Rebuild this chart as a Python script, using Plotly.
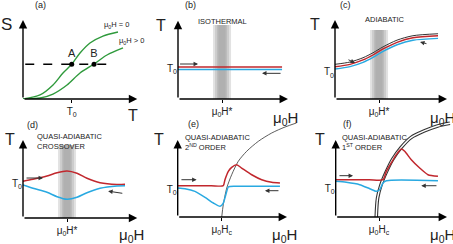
import plotly.graph_objects as go

W, H = 453, 244
SX, SY = 11.2, 7.9          # pixels per data unit (layout only)
FONT = "Liberation Sans, Arial, sans-serif"

RED = "#c1272d"
BLUE = "#29a9e1"
GREEN = "#2f9a3c"
INK = "#222222"

# ---------------- data ----------------
# (a) entropy S(T) at mu0H = 0 and mu0H > 0
a_T_h0 = [0, 1.52, 2.68, 3.57, 4.35, 5.09, 5.98, 7.14, 8.48]
a_S_h0 = [0, 0.51, 1.77, 3.29, 4.39, 5.82, 7.09, 7.97, 8.48]
a_T_h1 = [0, 1.52, 2.68, 3.93, 5.09, 6.34, 7.50, 8.93]
a_S_h1 = [0, 0.13, 0.63, 1.77, 3.29, 4.43, 5.57, 6.46]
a_S_iso = [4.4, 4.4]
a_T_iso = [0.2, 8.21]
a_pts_T = [4.35, 6.34]
a_pts_S = [4.4, 4.4]
a_pts_lbl = ["A", "B"]
a_T0 = 4.35

# (b) isothermal
b_H = [0, 9.29]
b_red = [4.05, 4.05]
b_blue = [3.73, 3.73]

# (c) adiabatic
c_H = [0, 1.34, 2.5, 3.39, 4.29, 5.54, 6.96, 9.2]
c_black = [4.39, 4.68, 5.22, 5.85, 6.60, 7.45, 8.01, 8.26]
c_red = [4.09, 4.39, 4.94, 5.57, 6.33, 7.18, 7.76, 8.01]
c_blue = [3.80, 4.10, 4.64, 5.27, 6.03, 6.87, 7.44, 7.68]

# (d) quasi-adiabatic crossover
d_H = [0, 0.89, 2.14, 3.04, 3.93, 4.82, 5.71, 6.88, 8.39, 9.11]
d_red = [4.65, 4.90, 5.32, 5.73, 5.95, 5.66, 5.03, 4.47, 4.25, 4.27]
d_blue = [4.18, 3.76, 3.25, 2.70, 2.37, 2.62, 3.20, 3.76, 4.05, 4.08]

# (e) quasi-adiabatic 2nd order
e_red_H = [0, 3.0, 4.07, 4.22, 4.52, 4.82, 5.27, 5.71, 6.61, 7.5, 8.39, 9.13]
e_red = [3.96, 3.96, 3.96, 4.72, 5.78, 6.29, 6.62, 6.20, 5.35, 4.72, 4.39, 4.30]
e_blue_H = [0, 0.65, 1.54, 2.44, 3.18, 3.78, 4.07, 4.38, 4.52, 5.12, 9.13]
e_blue = [3.67, 3.58, 3.25, 2.49, 1.77, 1.35, 1.77, 3.25, 3.80, 3.89, 3.89]
e_crit_H = [3.93, 4.07, 4.38, 4.82, 5.41, 6.16, 7.20, 8.39, 9.58, 10.6]
e_crit = [0, 1.56, 3.67, 5.35, 7.05, 8.32, 9.58, 10.63, 11.39, 11.9]

# (f) quasi-adiabatic 1st order
f_red_H = [0, 3.0, 4.22, 4.52, 4.96, 5.41, 5.86, 6.16, 6.75, 7.5, 8.24, 9.13]
f_red = [4.72, 4.72, 4.72, 5.78, 6.84, 7.89, 8.61, 8.32, 7.25, 6.20, 5.35, 5.15]
f_blue_H = [0, 0.95, 2.14, 3.04, 3.63, 3.93, 4.22, 4.52, 9.13]
f_blue = [4.52, 4.39, 4.09, 3.58, 3.25, 3.46, 4.30, 4.59, 4.59]
f_crit_H = [3.62, 3.74, 4.04, 4.49, 5.08, 5.83, 6.72, 7.91, 9.10, 10.2]
f_crit = [0, 2.41, 4.05, 5.62, 7.30, 8.78, 10.05, 10.89, 11.52, 11.86]

# tick positions / labels
x_tick = {1: (a_T0, "T<sub>0</sub>"), 2: (3.93, "μ<sub>0</sub>H*"), 3: (3.93, "μ<sub>0</sub>H*"),
          4: (3.93, "μ<sub>0</sub>H*"), 5: (3.93, "μ<sub>0</sub>H<sub>c</sub>"), 6: (3.87, "μ<sub>0</sub>H<sub>c</sub>")}
y_tick = {2: 3.92, 3: 3.42, 4: 4.39, 5: 3.54, 6: 3.63}
band_center = 3.93
band_top = {2: 9.37, 3: 8.73, 4: 9.24}

# ---------------- layout geometry (pixels) ----------------
panels = {
    1: dict(ox=23, oy=99, right=145, top=14, xtip=10.2, ytip=10.0),
    2: dict(ox=178, oy=99, right=300, top=14, xtip=9.82, ytip=9.9),
    3: dict(ox=335, oy=99, right=453, top=14, xtip=10.0, ytip=10.0),
    4: dict(ox=23, oy=218, right=145, top=118, xtip=10.2, ytip=9.87),
    5: dict(ox=177.7, oy=217, right=300, top=118, xtip=9.76, ytip=9.75),
    6: dict(ox=335.7, oy=217, right=453, top=118, xtip=9.94, ytip=9.75),
}

fig = go.Figure()


def xa(i):
    return "x" if i == 1 else f"x{i}"


def ya(i):
    return "y" if i == 1 else f"y{i}"


for i, p in panels.items():
    xd = [p["ox"] / W, p["right"] / W]
    yd = [1 - p["oy"] / H, 1 - p["top"] / H]
    xr = [0, (p["right"] - p["ox"]) / SX]
    yr = [0, (p["oy"] - p["top"]) / SY]
    tv, tt = x_tick[i]
    xkey = "xaxis" if i == 1 else f"xaxis{i}"
    ykey = "yaxis" if i == 1 else f"yaxis{i}"
    fig.update_layout({
        xkey: dict(domain=xd, range=xr, anchor=ya(i), showgrid=False, zeroline=False,
                   showline=False, tickmode="array", tickvals=[tv], ticktext=[tt],
                   ticks="outside", ticklen=3, tickwidth=1, tickcolor="black", color=INK,
                   tickfont=dict(size=10, color=INK, family=FONT), fixedrange=True),
        ykey: dict(domain=yd, range=yr, anchor=xa(i), showgrid=False, zeroline=False,
                   showline=False, tickmode="array", color=INK,
                   tickvals=[y_tick[i]] if i in y_tick else [],
                   ticktext=["T<sub>0</sub>"] if i in y_tick else [],
                   ticks="", tickfont=dict(size=10, color=INK, family=FONT), fixedrange=True),
    })


def line(i, x, y, color, width, dash=None, shape="spline", smoothing=0.8):
    fig.add_trace(go.Scatter(x=x, y=y, mode="lines", xaxis=xa(i), yaxis=ya(i),
                             line=dict(color=color, width=width, dash=dash, shape=shape,
                                       smoothing=smoothing),
                             hoverinfo="skip", showlegend=False))


# gray bands (soft edges)
for i, top in band_top.items():
    for wpx in (18, 14, 10, 7):
        hw = wpx / SX / 2
        fig.add_shape(type="rect", xref=xa(i), yref=ya(i), x0=band_center - hw, x1=band_center + hw,
                      y0=0, y1=top, fillcolor="#8a8a8a", opacity=0.25, line_width=0, layer="below")

# (a)
line(1, a_T_iso, a_S_iso, "black", 1.4, dash="dash", shape="linear")
line(1, a_T_h0, a_S_h0, GREEN, 1.4)
line(1, a_T_h1, a_S_h1, GREEN, 1.4)
fig.add_trace(go.Scatter(x=a_pts_T, y=a_pts_S, mode="markers+text", text=a_pts_lbl,
                         textposition="top center", textfont=dict(size=11, color=INK, family=FONT),
                         marker=dict(color="black", size=5), xaxis="x", yaxis="y",
                         hoverinfo="skip", showlegend=False, cliponaxis=False))
# (b)
line(2, b_H, b_red, RED, 1.5, shape="linear")
line(2, b_H, b_blue, BLUE, 1.5, shape="linear")
# (c)
line(3, c_H, c_black, "#333333", 1.0)
line(3, c_H, c_red, RED, 1.4)
line(3, c_H, c_blue, BLUE, 1.4)
# (d)
line(4, d_H, d_red, RED, 1.5)
line(4, d_H, d_blue, BLUE, 1.5)
# (e)
line(5, e_crit_H, e_crit, "#333333", 0.8)
line(5, e_red_H, e_red, RED, 1.5, smoothing=0.6)
line(5, e_blue_H, e_blue, BLUE, 1.5, smoothing=0.6)
# (f) double line = dark wide line with white core
line(6, f_crit_H, f_crit, "#333333", 3.6)
line(6, f_crit_H, f_crit, "white", 1.4)
line(6, f_red_H, f_red, RED, 1.5, smoothing=0.6)
line(6, f_blue_H, f_blue, BLUE, 1.5, smoothing=0.6)

ann = []
# axis arrows
for i, p in panels.items():
    for (hx, hy) in ((p["xtip"], 0), (0, p["ytip"])):
        ann.append(dict(x=hx, y=hy, ax=0, ay=0, xref=xa(i), yref=ya(i), axref=xa(i), ayref=ya(i),
                        text="", showarrow=True, arrowhead=2, arrowsize=1.2, arrowwidth=1.4,
                        arrowcolor="black", standoff=0, startstandoff=0))

# sweep direction arrows (tail -> head) in data units
sweeps = [
    (2, (0.05, 4.43), (1.79, 4.43)), (2, (9.29, 3.25), (7.5, 3.25)),
    (3, (1.07, 5.06), (1.79, 4.56)), (3, (8.3, 6.96), (7.59, 7.22)),
    (4, (0.18, 5.06), (1.79, 5.06)), (4, (9.0, 3.1), (7.6, 3.4)),
    (5, (0.2, 4.72), (1.69, 4.72)), (5, (9.13, 3.33), (7.79, 3.33)),
    (6, (0.2, 5.23), (1.55, 5.23)), (6, (9.13, 3.96), (7.64, 3.96)),
]
for i, t, h in sweeps:
    ann.append(dict(x=h[0], y=h[1], ax=t[0], ay=t[1], xref=xa(i), yref=ya(i), axref=xa(i),
                    ayref=ya(i), text="", showarrow=True, arrowhead=2, arrowsize=0.9,
                    arrowwidth=1.0, arrowcolor="#333333", standoff=0, startstandoff=0))


def txt(px, py, text, size, xanchor="center", yanchor="middle", align="center"):
    ann.append(dict(x=px / W, y=1 - py / H, xref="paper", yref="paper", text=text,
                    showarrow=False, xanchor=xanchor, yanchor=yanchor, align=align,
                    font=dict(size=size, color=INK, family=FONT)))


for lbl, px, py in (("(a)", 40, 5), ("(b)", 190, 5), ("(c)", 345, 5),
                    ("(d)", 32, 125), ("(e)", 193, 124), ("(f)", 347, 124)):
    txt(px, py, lbl, 9)

txt(6, 24, "S", 17)
txt(133, 115, "T", 16)
for px, py in ((161, 25), (315, 24), (10, 139), (159, 139), (320, 139)):
    txt(px, py, "T", 16)
txt(285, 118, "μ<sub>0</sub>H", 15)
txt(428, 118, "μ<sub>0</sub>H", 15, xanchor="left")
txt(131, 235, "μ<sub>0</sub>H", 15)
txt(284, 235, "μ<sub>0</sub>H", 15)
txt(428, 235, "μ<sub>0</sub>H", 15, xanchor="left")

txt(102, 25, "μ<sub>0</sub>H = 0", 7.5, xanchor="left")
txt(117, 41, "μ<sub>0</sub>H &gt; 0", 7.5, xanchor="left")
txt(222, 21, "ISOTHERMAL", 7.5)
txt(385, 20, "ADIABATIC", 7.5)
txt(35, 141.5, "QUASI-ADIABATIC<br>CROSSOVER", 7.5, xanchor="left", align="left")
txt(183, 142, "QUASI-ADIABATIC<br>2<sup>ND</sup> ORDER", 7.5, xanchor="left", align="left")
txt(340, 142, "QUASI-ADIABATIC<br>1<sup>ST</sup> ORDER", 7.5, xanchor="left", align="left")

fig.update_layout(width=W, height=H, margin=dict(l=0, r=0, t=0, b=0), annotations=ann,
                  paper_bgcolor="white", plot_bgcolor="rgba(0,0,0,0)", showlegend=False,
                  font=dict(family=FONT, color=INK))
fig.write_html("out.html")
